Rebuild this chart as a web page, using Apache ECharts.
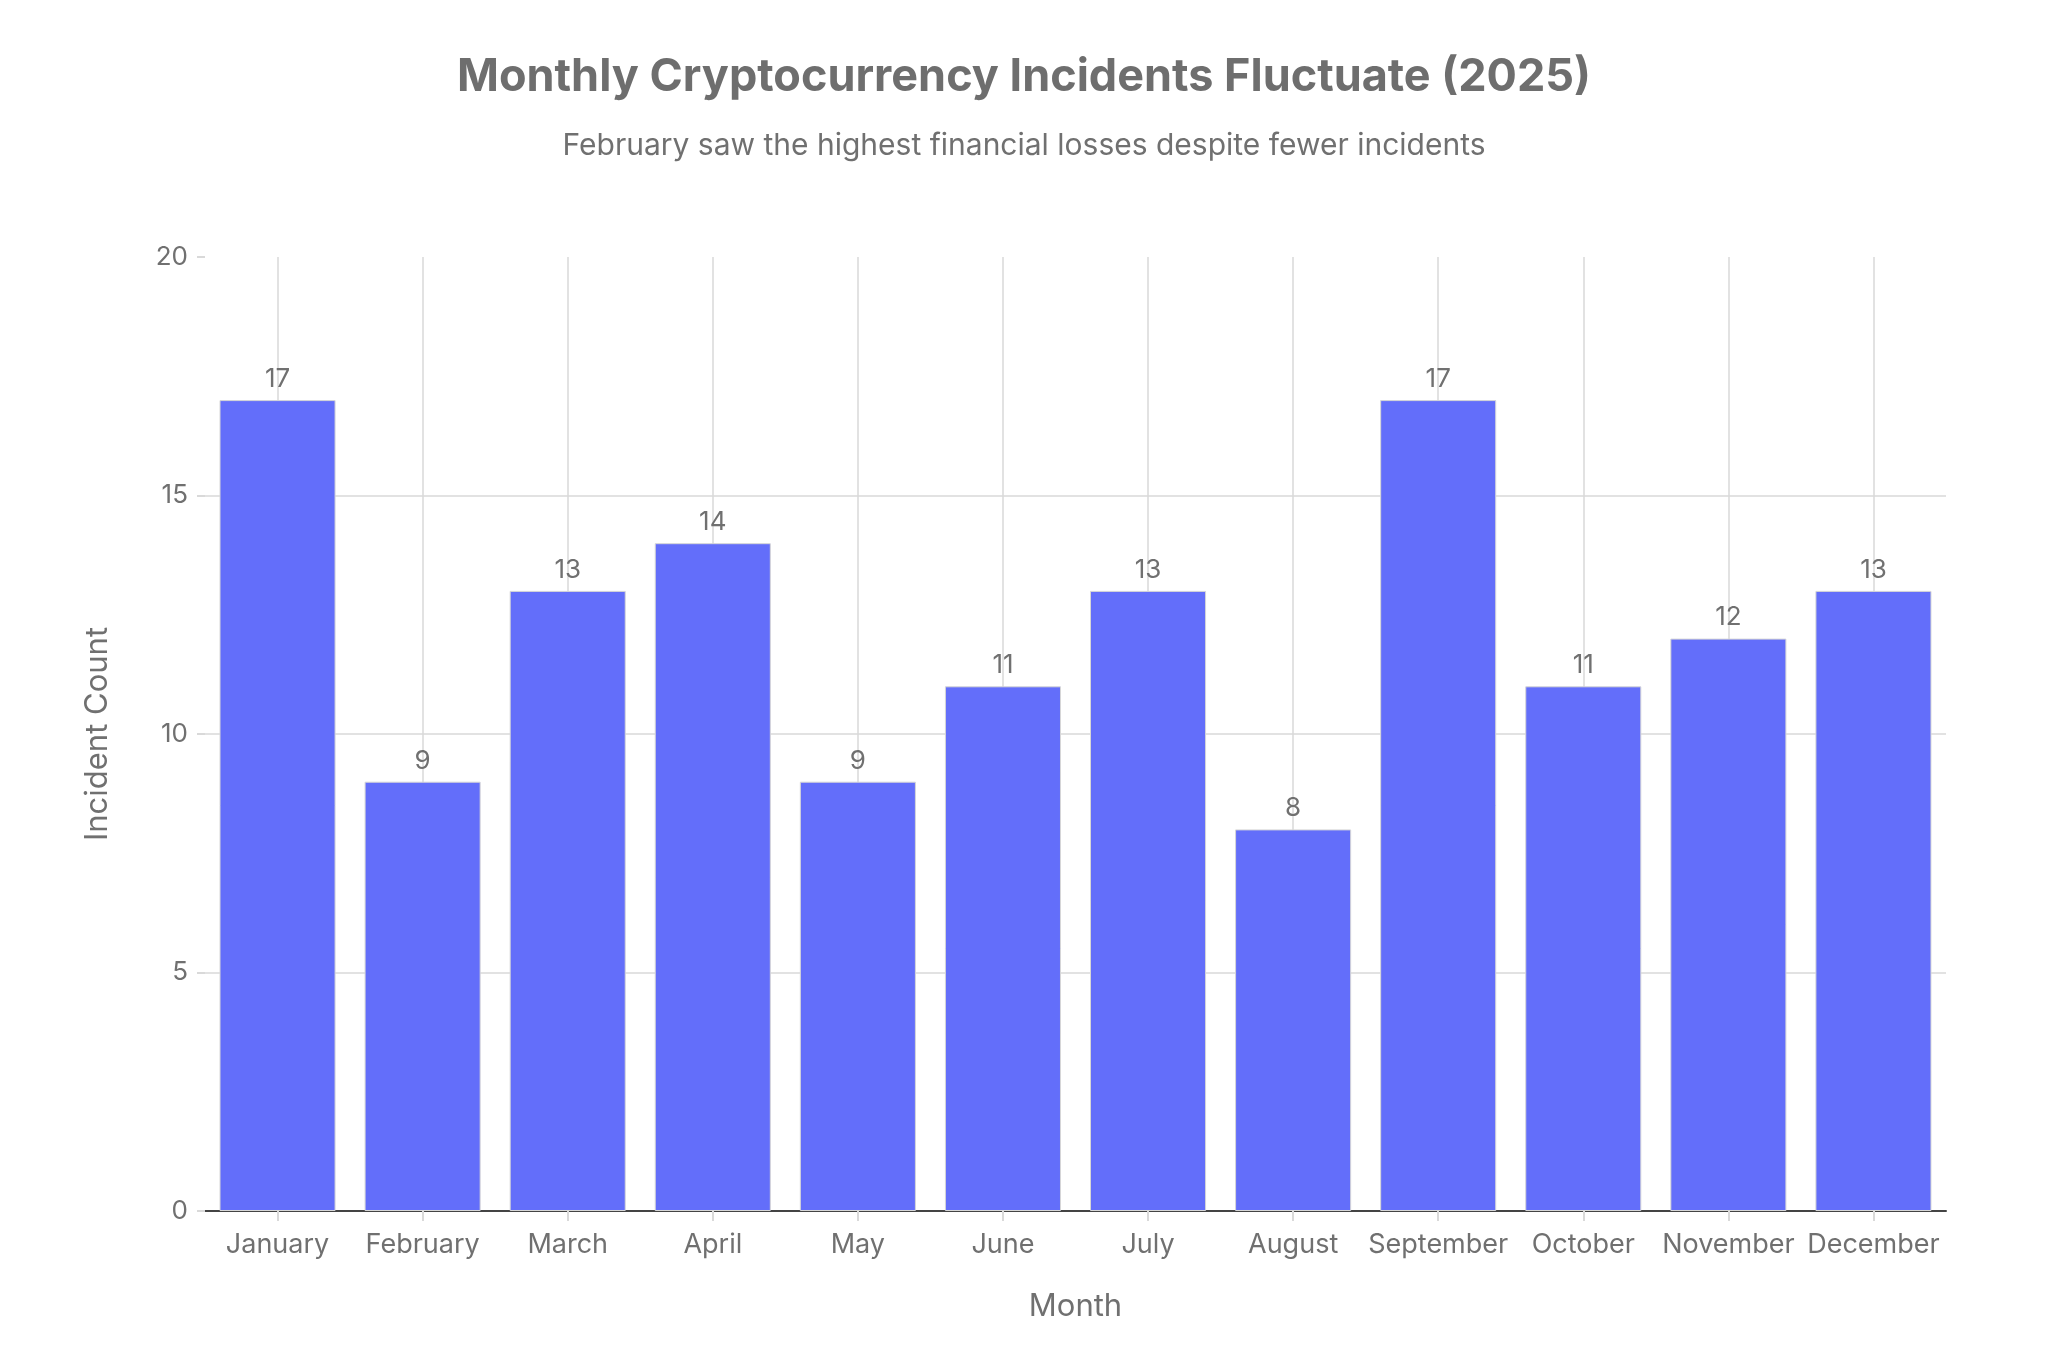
<!DOCTYPE html>
<html>
<head>
<meta charset="utf-8">
<script src="https://cdn.jsdelivr.net/npm/echarts@6/dist/echarts.min.js"></script>
<style>
  html, body { margin: 0; padding: 0; background: #fff; }
  #chart { width: 2048px; height: 1365px; }
</style>
</head>
<body>
<div id="chart"></div>
<script>
// data
var months = ["January", "February", "March", "April", "May", "June",
  "July", "August", "September", "October", "November", "December"];
var incidents = [17, 9, 13, 14, 9, 11, 13, 8, 17, 11, 12, 13];
var yTicks = [0, 5, 10, 15, 20];
var gridValues = [5, 10, 15]; // horizontal grid lines (none at 20)

var textColor = "#707070";
var gridColor = "#d9d9d9";
var font = "Inter, 'Liberation Sans', sans-serif";

var chart = echarts.init(document.getElementById("chart"));

// grid lines are drawn with markLine on an empty series, on a lower layer than the bars
var gridLines = months.map(function (m) { return { xAxis: m }; })
  .concat(gridValues.map(function (v) { return { yAxis: v }; }));

chart.setOption({
  backgroundColor: "#ffffff",
  textStyle: { fontFamily: font },
  title: [
    {
      text: "Monthly Cryptocurrency Incidents Fluctuate (2025)",
      left: "center",
      top: 50,
      textStyle: { fontSize: 45, fontWeight: "bold", color: "#6e6e6e", fontFamily: font },
    },
    {
      text: "February saw the highest financial losses despite fewer incidents",
      left: "center",
      top: 126,
      textStyle: { fontSize: 30, fontWeight: "normal", color: textColor, fontFamily: font },
    },
  ],
  grid: { left: 205, right: 102, top: 257, bottom: 154, containLabel: false },
  xAxis: {
    type: "category",
    data: months,
    name: "Month",
    nameLocation: "middle",
    nameGap: 80,
    nameTextStyle: { fontSize: 31, color: textColor },
    axisLine: { show: true, lineStyle: { color: "#444444", width: 2 } },
    axisTick: { show: true, alignWithLabel: true, length: 10, lineStyle: { color: gridColor, width: 2 } },
    axisLabel: { fontSize: 27, color: textColor, margin: 20, interval: 0 },
    splitLine: { show: false },
  },
  yAxis: {
    type: "value",
    min: 0,
    max: 20,
    interval: 5,
    name: "Incident Count",
    nameLocation: "middle",
    nameGap: 92,
    nameTextStyle: { fontSize: 31, color: textColor },
    axisLine: { show: false },
    axisTick: { show: true, length: 8, lineStyle: { color: gridColor, width: 2 } },
    axisLabel: {
      fontSize: 26,
      color: textColor,
      margin: 17,
      formatter: function (v) { return yTicks.indexOf(v) >= 0 ? String(v) : ""; },
    },
    splitLine: { show: false },
  },
  series: [
    {
      name: "grid",
      type: "line",
      data: [],
      zlevel: 0,
      z: 0,
      silent: true,
      markLine: {
        silent: true,
        z: 0,
        symbol: "none",
        animation: false,
        label: { show: false },
        lineStyle: { color: gridColor, width: 1.5, type: "solid" },
        data: gridLines,
      },
    },
    {
      name: "Incidents",
      type: "bar",
      data: incidents,
      zlevel: 1,
      barCategoryGap: "20%",
      itemStyle: { color: "#636efa", borderColor: "#d6d6d6", borderWidth: 1 },
      label: {
        show: true,
        position: "top",
        distance: 8,
        fontSize: 26,
        color: textColor,
      },
    },
  ],
});
</script>
</body>
</html>
